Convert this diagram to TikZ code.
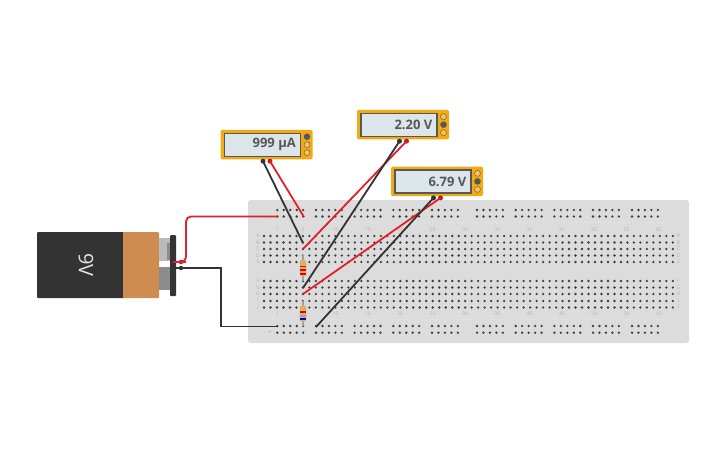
\documentclass[tikz,border=0pt]{standalone}
\usepackage{fontspec}
\setmainfont{Open Sans}
\definecolor{board}{HTML}{DCDCDC}
\definecolor{holec}{HTML}{3E3E3E}
\definecolor{markc}{HTML}{B4B4B4}
\definecolor{meterc}{HTML}{F2A912}
\definecolor{screenc}{HTML}{DCE5E9}
\definecolor{framec}{HTML}{54585A}
\definecolor{redw}{HTML}{E2202C}
\definecolor{blackw}{HTML}{333333}
\definecolor{copper}{HTML}{CE8C50}
\definecolor{lead}{HTML}{A0A0A0}
\definecolor{resbody}{HTML}{D9B36C}
\tikzset{
	hole/.style={fill=holec, circle, inner sep=0pt, minimum size=2.6pt},
	marktext/.style={text=markc, font=\fontsize{5}{5}\selectfont, inner sep=0pt},
	meterbox/.style={fill=meterc, rounded corners=1.5pt, minimum width=92pt, minimum height=29.5pt, inner sep=0pt},
	screenbox/.style={fill=screenc, draw=framec, line width=1.2pt, minimum width=76pt, minimum height=23pt, inner sep=0pt},
	readout/.style={text=framec, font=\fontsize{13}{13}\selectfont\bfseries, inner sep=0pt},
	dial/.style={draw=framec!70!meterc, fill=meterc!70!white, circle, line width=0.6pt, inner sep=0pt, minimum size=6pt},
	dialon/.style={fill=framec, draw=framec, circle, inner sep=0pt, minimum size=6pt},
	wirered/.style={draw=redw, line width=1.8pt},
	wireblack/.style={draw=blackw, line width=1.8pt},
	probe/.style={circle, inner sep=0pt, minimum size=5pt}
}
\begin{document}
\begin{tikzpicture}[x=1pt, y=-1pt]
	\useasboundingbox (0,0) rectangle (725,453);
	% breadboard
	\node (board) [fill=board, rounded corners=3pt, minimum width=441pt, minimum height=143pt, inner sep=0pt] at (468.5,271.5) {};
	\draw[white!88!black, line width=0.6pt] (262,222) -- (678,222);
	\draw[white!88!black, line width=0.6pt] (262,319) -- (678,319);
	\draw[white!88!black, line width=0.6pt] (469,205) -- (469,219);
	\draw[white!88!black, line width=0.6pt] (469,323) -- (469,337);
	\foreach \i in {0,...,63} {
		\foreach \y in {236,242.5,249,255.5,262,281,287.5,294,301,307.5}
			\node[hole] at (264+\i*6.49,\y) {};
	}
	\foreach \g in {277.3,316,354.6,393.3,432,477,515.7,554.4,593,632} {
		\foreach \i in {0,...,4} {
			\foreach \y in {210,216.5,326,332.7}
				\node[hole] at (\g+\i*6.47,\y) {};
		}
	}
	\foreach \n in {1,5,10,15,20,25,30,35,40,45,50,55,60} {
		\node[marktext] at (277.3+\n*6.47-6.47,230) {\n};
		\node[marktext] at (277.3+\n*6.47-6.47,314) {\n};
	}
	\foreach \r/\y in {A/236,B/242.5,C/249,D/255.5,E/262,F/281,G/287.5,H/294,I/301,J/307.5} {
		\node[marktext] at (258,\y) {\r};
		\node[marktext] at (678.5,\y) {\r};
	}
	\node[text=red!30!board, font=\fontsize{7}{7}\selectfont, inner sep=0pt] (plus) at (270,332.5) {+};
	% resistors
	\draw[lead, line width=1.2pt] (303,255) -- (303,281);
	\draw[lead, line width=1.2pt] (303,301) -- (303,326);
	\node (res1) [fill=resbody, rounded corners=2.5pt, minimum width=6.5pt, minimum height=16.5pt, inner sep=0pt] at (303,268) {};
	\node (res2) [fill=resbody, rounded corners=2.5pt, minimum width=6.5pt, minimum height=16.5pt, inner sep=0pt] at (303,313.5) {};
	\foreach \y in {266.5,270,274}
		\fill[red!90!black] (299.7,\y-0.8) rectangle (306.3,\y+0.8);
	\fill[red!90!black] (299.7,311.2) rectangle (306.3,312.8);
	\fill[lead] (299.7,314.5) rectangle (306.3,316.5);
	\fill[blue!80!black] (299.7,318) rectangle (306.3,319.8);
	% battery
	\node (body) [fill=blackw, rounded corners=1pt, minimum width=88pt, minimum height=66pt, inner sep=0pt] at (81,265) {};
	\node (cap) [fill=copper, rounded corners=1pt, minimum width=36pt, minimum height=66pt, inner sep=0pt] at (141,265) {};
	\fill[copper] (123,232) rectangle (130,298);
	\node (lab) [text=white!90!black, font=\fontsize{20}{20}\selectfont, rotate=-90, inner sep=0pt] at (86,265) {9V};
	\node (termtop) [fill=black!27, minimum width=11pt, minimum height=23pt, inner sep=0pt] at (164.5,249.5) {};
	\fill[black!45] (167,243) rectangle (170,260);
	\node (termbot) [fill=black!45, minimum width=11pt, minimum height=23pt, inner sep=0pt] at (164.5,278.5) {};
	\node (plate) [fill=blackw, rounded corners=1pt, minimum width=6pt, minimum height=61pt, inner sep=0pt] at (173,265.5) {};
	% meters
	\foreach \m/\x/\y/\val/\on in {ma/266.5/144.7/999 µA/1, mb/403/124.7/2.20 V/2, mc/437/181.4/6.79 V/2} {
		\node (\m) [meterbox] at (\x,\y) {};
		\node (\m-s) [screenbox] at (\x-4,\y) {};
		\node (\m-t) [readout, anchor=east] at (\x+29.5,\y) {\val};
		\foreach \d in {1,2,3} {
			\ifnum\d=\on
				\node (\m-d\d) [dialon] at (\x+40.5,\y+8*\d-16) {};
			\else
				\node (\m-d\d) [dial] at (\x+40.5,\y+8*\d-16) {};
			\fi
		}
		\node (\m-k) [probe, fill=blackw] at (\x-3.5,\y+16.5) {};
		\node (\m-r) [probe, fill=redw!80!black] at (\x+3.5,\y+16.5) {};
	}
	% wire ends on the board
	\coordinate (e1) at (303,243);
	\coordinate (e2) at (304,217);
	\coordinate (e3) at (303,249);
	\coordinate (e4) at (303,288);
	\coordinate (e5) at (303,294);
	\coordinate (e6) at (316,327);
	\coordinate (e7) at (278,216.5);
	\coordinate (e8) at (278,326.5);
	\node (clipr) [probe, minimum size=4.5pt, fill=redw!80!black] at (181,262) {};
	\node (clipk) [probe, minimum size=4.5pt, fill=blackw] at (181,268) {};
	\draw[wireblack] (ma-k.center) -- (e1);
	\draw[wirered] (ma-r.center) -- (e2);
	\draw[wirered] (mb-r.center) -- (e3);
	\draw[wireblack] (mb-k.center) -- (e4);
	\draw[wirered] (mc-r.center) -- (e5);
	\draw[wireblack] (mc-k.center) -- (e6);
	\draw[wirered, rounded corners=5pt] (plate.center |- clipr) -- (clipr.center) -- (186,262) -- (186,216.5) -- (e7);
	\draw[wireblack] (plate.center |- clipk) -- (clipk.center) -- (221,268) -- (221,326.5) -- (e8);
\end{tikzpicture}
\end{document}
